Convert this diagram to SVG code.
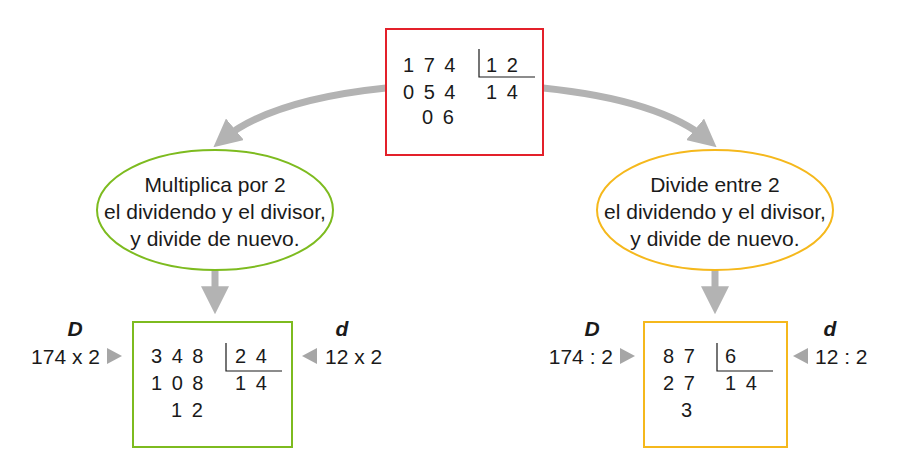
<svg xmlns="http://www.w3.org/2000/svg" width="900" height="450" viewBox="0 0 900 450">
<style>
text{font-family:"Liberation Sans",Arial,sans-serif;font-size:21px;fill:#1a1a1a}
.n{font-size:20px;letter-spacing:2px}
.b{font-weight:bold;font-style:italic}
.c{text-anchor:middle}
.ln{stroke:#1a1a1a;stroke-width:1.2;fill:none}
.con{stroke:#b3b3b3;stroke-width:7;fill:none}
.tri{fill:#a6a6a6}
</style>
<defs>
<marker id="ah" viewBox="0 0 10 10" refX="6" refY="5" markerWidth="4" markerHeight="4" orient="auto" markerUnits="strokeWidth">
<path d="M0,0 L10,5 L0,10 z" fill="#b3b3b3"/>
</marker>
</defs>
<g id="connectors">
<path class="con" d="M386,88 Q270,100 222,140" marker-end="url(#ah)"/>
<path class="con" d="M543,88 Q660,100 708,140" marker-end="url(#ah)"/>
<path class="con" d="M215,270 L215,303" marker-end="url(#ah)"/>
<path class="con" d="M715,270 L715,303" marker-end="url(#ah)"/>
</g>
<g id="top">
<rect x="386" y="29" width="157" height="126" fill="#fff" stroke="#e3202a" stroke-width="2"/>
<text class="n" x="403" y="72">1 7 4</text><text class="n" x="403" y="99">0 5 4</text><text class="n" x="422" y="124">0 6</text>
<path class="ln" d="M479,49 V77 H535"/>
<text class="n" x="486" y="72">1 2</text><text class="n" x="486" y="99">1 4</text>
</g>
<g id="ellipse-left">
<ellipse cx="215" cy="210" rx="118" ry="60" fill="#fff" stroke="#7dbb1f" stroke-width="2"/>
<text class="c" x="215" y="192">Multiplica por 2</text>
<text class="c" x="215" y="219">el dividendo y el divisor,</text>
<text class="c" x="215" y="246">y divide de nuevo.</text>
</g>
<g id="ellipse-right">
<ellipse cx="715" cy="210" rx="118" ry="60" fill="#fff" stroke="#f5b81c" stroke-width="2"/>
<text class="c" x="715" y="192">Divide entre 2</text>
<text class="c" x="715" y="219">el dividendo y el divisor,</text>
<text class="c" x="715" y="246">y divide de nuevo.</text>
</g>
<g id="box-left">
<rect x="133" y="322" width="159" height="125" fill="#fff" stroke="#7dbb1f" stroke-width="2"/>
<text class="n" x="151" y="363">3 4 8</text><text class="n" x="151" y="390">1 0 8</text><text class="n" x="171" y="417">1 2</text>
<path class="ln" d="M226,343 V371 H282"/>
<text class="n" x="235" y="363">2 4</text><text class="n" x="235" y="390">1 4</text>
</g>
<g id="box-right">
<rect x="644" y="322" width="143" height="125" fill="#fff" stroke="#f5b81c" stroke-width="2"/>
<text class="n" x="663" y="363">8 7</text><text class="n" x="663" y="390">2 7</text><text class="n" x="681" y="417">3</text>
<path class="ln" d="M717,343 V371 H773"/>
<text class="n" x="725" y="363">6</text><text class="n" x="725" y="390">1 4</text>
</g>
<g id="labels-left">
<text class="b c" x="75" y="336">D</text>
<text x="100" y="364" text-anchor="end">174 x 2</text>
<path class="tri" d="M107,348 L122,356 L107,364 z"/>
<text class="b c" x="342" y="336">d</text>
<path class="tri" d="M317,348 L302,356 L317,364 z"/>
<text x="325" y="364">12 x 2</text>
</g>
<g id="labels-right">
<text class="b c" x="592" y="336">D</text>
<text x="613" y="364" text-anchor="end">174 : 2</text>
<path class="tri" d="M620,348 L635,356 L620,364 z"/>
<text class="b c" x="830" y="336">d</text>
<path class="tri" d="M808,348 L793,356 L808,364 z"/>
<text x="815" y="364">12 : 2</text>
</g>
</svg>
